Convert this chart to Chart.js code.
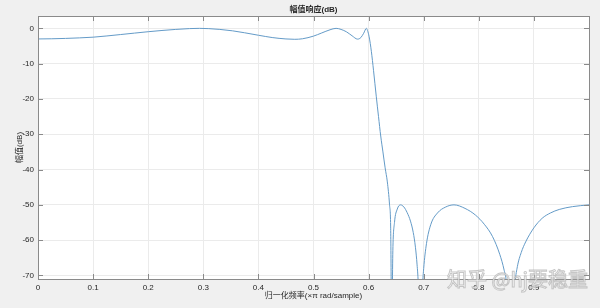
<!DOCTYPE html>
<html>
<head>
<meta charset="utf-8">
<script src="https://cdn.jsdelivr.net/npm/chart.js@4"></script>
<style>
  html, body { margin: 0; padding: 0; background: #f0f0f0; }
  #wrap { width: 600px; height: 308px; }
</style>
</head>
<body>
<div id="wrap"><canvas id="myChart" width="600" height="308"></canvas></div>
<script>
// normalized frequency (x pi rad/sample)
var freq = [0, 0.025, 0.05, 0.075, 0.1, 0.125, 0.15, 0.175, 0.2, 0.225, 0.25, 0.275, 0.293, 0.31, 0.33, 0.353,
  0.375, 0.4, 0.425, 0.45, 0.466, 0.48, 0.5, 0.515, 0.53, 0.541, 0.55, 0.56, 0.57, 0.58, 0.586, 0.591, 0.596,
  0.598, 0.601, 0.605, 0.609, 0.614, 0.618, 0.622, 0.626, 0.630, 0.634, 0.638, 0.640, 0.642, 0.644, 0.647,
  0.652, 0.658, 0.664, 0.670, 0.676, 0.681, 0.685, 0.688, 0.690, 0.694, 0.698, 0.700, 0.705, 0.713, 0.725,
  0.74, 0.755, 0.775, 0.794, 0.81, 0.825, 0.838, 0.846, 0.850, 0.858, 0.866, 0.870, 0.877, 0.885, 0.9, 0.915,
  0.93, 0.946, 0.97, 1.0];
// magnitude (dB)
var magDb = [-3.0, -2.95, -2.85, -2.7, -2.5, -2.15, -1.75, -1.35, -0.95, -0.6, -0.3, -0.07, 0, -0.08, -0.3, -0.7,
  -1.25, -1.95, -2.6, -3.0, -3.1, -2.95, -2.2, -1.3, -0.4, 0, -0.3, -1.0, -2.1, -3.05, -2.6, -1.4, 0,
  -0.6, -2.4, -6.5, -12, -19.4, -25, -30.5, -35, -39.5, -43.5, -50, -56, -85, -63, -55,
  -51.2, -50, -50.6, -52.2, -54.6, -57.8, -62, -67, -72, -95, -73, -68, -61, -55.5, -52.3,
  -50.6, -50, -51, -52.9, -55.5, -59, -64, -68.5, -72, -95, -72, -67.5, -63.5, -60.5, -56.5, -53.8,
  -52.3, -51.3, -50.5, -50];

var xTicks = [0, 0.1, 0.2, 0.3, 0.4, 0.5, 0.6, 0.7, 0.8, 0.9, 1];
var xTickLabels = ['0', '0.1', '0.2', '0.3', '0.4', '0.5', '0.6', '0.7', '0.8', '0.9', ''];
var yTicks = [-70, -60, -50, -40, -30, -20, -10, 0];
var yTickLabels = ['-70', '-60', '-50', '-40', '-30', '-20', '-10', '0'];

var tickFont = { family: 'Liberation Sans, Arial, sans-serif', size: 8 };
var cjkFont = { family: 'Liberation Sans, "Noto Sans CJK SC", sans-serif', size: 8 };

// matlab look: white axes, inner ticks, box, title, watermark
var matlabAxes = {
  id: 'matlabAxes',
  beforeDraw: function(chart) {
    var a = chart.chartArea, ctx = chart.ctx;
    ctx.save();
    ctx.fillStyle = '#ffffff';
    ctx.fillRect(a.left, a.top, a.right - a.left, a.bottom - a.top);
    ctx.restore();
  },
  afterDraw: function(chart) {
    var a = chart.chartArea, ctx = chart.ctx;
    var xs = chart.scales.x, ys = chart.scales.y;
    ctx.save();
    ctx.strokeStyle = '#8a8a8a';
    ctx.lineWidth = 1;
    ctx.beginPath();
    xTicks.forEach(function(v) {
      var px = Math.round(xs.getPixelForValue(v)) + 0.5;
      ctx.moveTo(px, a.bottom); ctx.lineTo(px, a.bottom - 5);
      ctx.moveTo(px, a.top); ctx.lineTo(px, a.top + 5);
    });
    yTicks.forEach(function(v) {
      var py = Math.round(ys.getPixelForValue(v)) + 0.5;
      ctx.moveTo(a.left, py); ctx.lineTo(a.left + 5, py);
      ctx.moveTo(a.right, py); ctx.lineTo(a.right - 5, py);
    });
    ctx.stroke();
    ctx.strokeRect(Math.round(a.left) + 0.5, Math.round(a.top) + 0.5,
      Math.round(a.right - a.left), Math.round(a.bottom - a.top));

    // title
    ctx.fillStyle = '#262626';
    ctx.font = 'bold 8px Liberation Sans, "Noto Sans CJK SC", sans-serif';
    ctx.textAlign = 'center';
    ctx.textBaseline = 'middle';
    ctx.fillText('幅值响应(dB)', (a.left + a.right) / 2, 10);

    // watermark
    ctx.font = '20px "Noto Sans CJK SC", sans-serif';
    ctx.textAlign = 'left';
    ctx.textBaseline = 'alphabetic';
    ctx.lineWidth = 1;
    ctx.fillStyle = 'rgba(255,255,255,0.8)';
    ctx.strokeStyle = 'rgba(160,160,160,0.6)';
    ctx.fillText('知乎 @hj要稳重', 447, 287);
    ctx.strokeText('知乎 @hj要稳重', 447, 287);
    ctx.restore();
  }
};

var ctx = document.getElementById('myChart').getContext('2d');
var myChart = new Chart(ctx, {
  type: 'line',
  data: {
    datasets: [{
      data: freq.map(function(f, i) { return { x: f, y: magDb[i] }; }),
      borderColor: 'rgb(100,155,200)',
      borderWidth: 1,
      pointRadius: 0,
      cubicInterpolationMode: 'monotone',
      fill: false
    }]
  },
  options: {
    responsive: false,
    animation: false,
    devicePixelRatio: 1,
    layout: { padding: { top: 16, right: 11, left: 0, bottom: 0 } },
    plugins: { legend: { display: false }, tooltip: { enabled: false }, title: { display: false } },
    scales: {
      x: {
        type: 'linear',
        min: 0,
        max: 1,
        afterBuildTicks: function(scale) { scale.ticks = xTicks.map(function(v) { return { value: v }; }); },
        afterFit: function(scale) { scale.height = 29; },
        grid: { color: '#ebebeb', drawTicks: false },
        border: { display: false },
        ticks: {
          color: '#262626', font: tickFont, padding: 4, maxRotation: 0, autoSkip: false,
          callback: function(v, i) { return xTickLabels[i]; }
        },
        title: {
          display: true, text: '归一化频率(×π rad/sample)', color: '#262626', font: cjkFont,
          padding: { top: 0, bottom: 7 }
        }
      },
      y: {
        min: -71,
        max: 3.5,
        afterBuildTicks: function(scale) { scale.ticks = yTicks.map(function(v) { return { value: v }; }); },
        afterFit: function(scale) { scale.width = 38; },
        grid: { color: '#ebebeb', drawTicks: false },
        border: { display: false },
        ticks: {
          color: '#262626', font: tickFont, padding: 4, autoSkip: false,
          callback: function(v, i) { return yTickLabels[i]; }
        },
        title: {
          display: true, text: '幅值(dB)', color: '#262626', font: cjkFont,
          padding: { top: 15, bottom: 0 }
        }
      }
    }
  },
  plugins: [matlabAxes]
});
</script>
</body>
</html>
